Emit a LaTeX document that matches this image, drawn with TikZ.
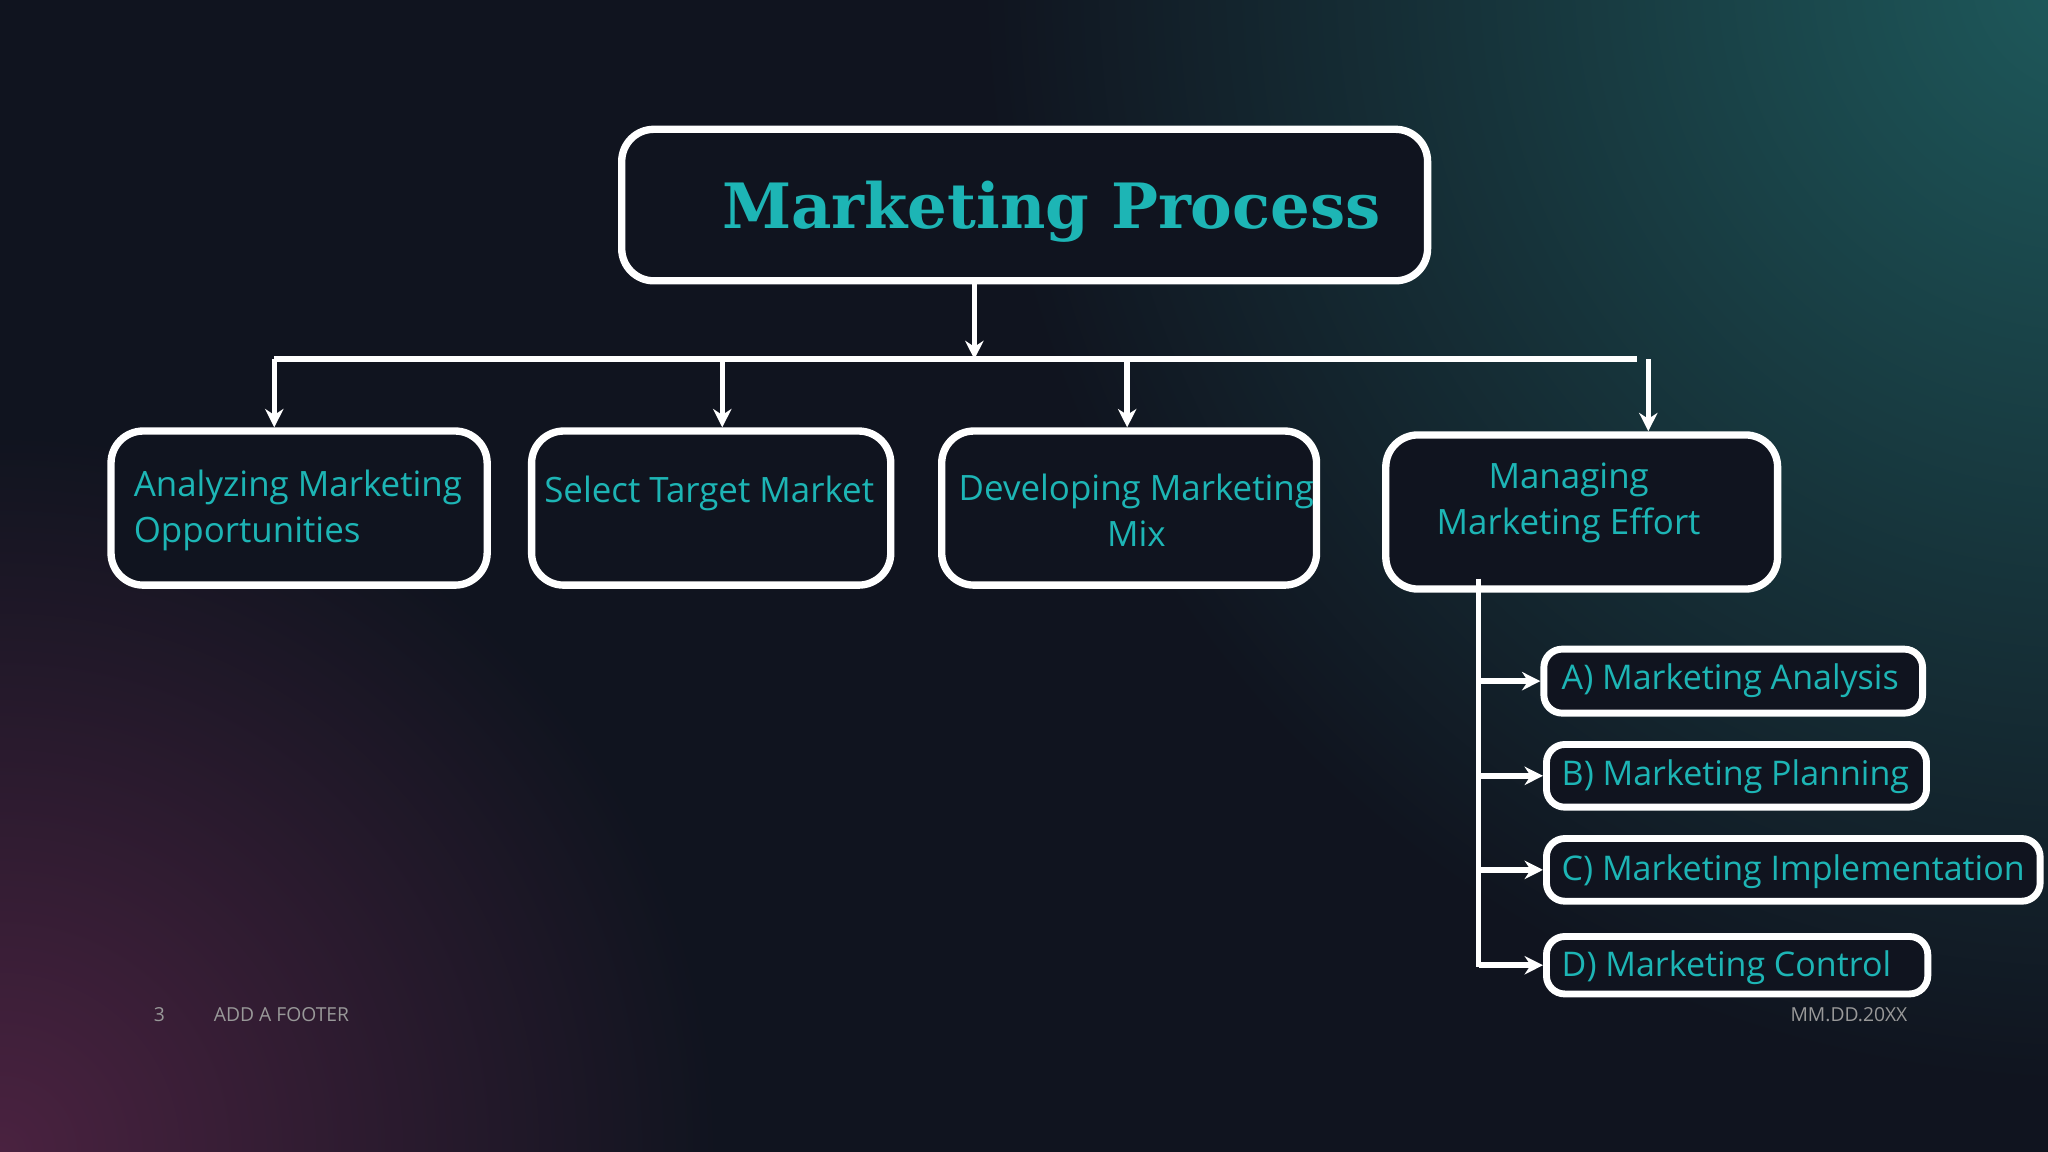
\documentclass[tikz,border=0pt]{standalone}
\usepackage{fontspec}
\setmainfont{Open Sans}
\newfontfamily\titlefont{DejaVu Serif}
\usetikzlibrary{arrows.meta}
\definecolor{bg}{HTML}{10141F}
\definecolor{tealtxt}{HTML}{1DB5B5}
\definecolor{glowt}{HTML}{1E5A5C}
\definecolor{glowp}{HTML}{4A2240}
\tikzset{
  box/.style={draw=white,line width=1.6pt,rounded corners=7pt,fill=bg,inner sep=0pt},
  sub/.style={draw=white,line width=1.5pt,rounded corners=4pt,fill=bg,inner sep=0pt},
  lbl/.style={text=tealtxt,font=\fontsize{7.6}{10}\selectfont,align=center},
  sublbl/.style={text=tealtxt,font=\fontsize{7.4}{10}\selectfont,anchor=west,inner sep=0pt},
  conn/.style={draw=white,line width=1.2pt},
  arr/.style={conn,-{Stealth[length=4pt,width=4pt]}},
  foot/.style={text=gray!80,font=\fontsize{4.2}{5}\selectfont,inner sep=0pt}
}
\begin{document}
\begin{tikzpicture}[x=0.01cm,y=-0.01cm]
\useasboundingbox (0,0) rectangle (1568,882);
\fill[bg] (0,0) rectangle (1568,882);
\begin{scope}
\clip (0,0) rectangle (1568,882);
\shade[inner color=glowt,outer color=bg] (1600,-20) circle (850);
\shade[inner color=glowp,outer color=bg] (0,882) circle (550);
\end{scope}
% title
\node[box,minimum width=617*0.01cm,minimum height=116*0.01cm] (t) at (784.5,157) {};
\node[text=tealtxt,font=\titlefont\bfseries\fontsize{13.6}{16}\selectfont] (tt) at (805,162) {Marketing Process};
% level boxes
\node[box,minimum width=288*0.01cm,minimum height=118*0.01cm] (b1) at (229,389) {};
\node[box,minimum width=275*0.01cm,minimum height=118*0.01cm] (b2) at (544.5,389) {};
\node[box,minimum width=287*0.01cm,minimum height=118*0.01cm] (b3) at (864.5,389) {};
\node[box,minimum width=300*0.01cm,minimum height=118*0.01cm] (b4) at (1211,392) {};
\node[lbl,align=left,anchor=west] at (90,391) {Analyzing Marketing\\Opportunities};
\node[lbl] at (543,378) {Select Target Market};
\node[lbl] at (870,391) {Developing Marketing\\Mix};
\node[lbl] at (1201,385) {Managing\\Marketing Effort};
% connectors
\coordinate (bl) at (210,275);
\coordinate (br) at (1253,275);
\coordinate (m) at (746,275);
\draw[conn] (bl) -- (br);
\draw[arr] (t.south -| m) -- (m);
\foreach \x/\b in {210/b1,553/b2,863/b3,1262/b4}{
  \draw[arr] (\x,275) -- (\b.north -| \x,0);
}
% sub boxes
\node[sub,minimum width=290*0.01cm,minimum height=49*0.01cm] (sa) at (1327,521.5) {};
\node[sub,minimum width=291*0.01cm,minimum height=48*0.01cm] (sb) at (1329.5,594) {};
\node[sub,minimum width=378*0.01cm,minimum height=48*0.01cm] (sc) at (1373,666) {};
\node[sub,minimum width=292*0.01cm,minimum height=44*0.01cm] (sd) at (1330,739) {};
\node[sublbl] at (1195,521) {A) Marketing Analysis};
\node[sublbl] at (1195,595) {B) Marketing Planning};
\node[sublbl] at (1195,667) {C) Marketing Implementation};
\node[sublbl] at (1195,741) {D) Marketing Control};
\coordinate (vt) at (1132,443);
\coordinate (vb) at (1132,740);
\draw[conn] (vt) -- (vb);
\foreach \s in {sa,sb,sc,sd}{
  \draw[arr] (\s.west -| vt) -- (\s.west);
}
% footer
\node[foot] at (122,777) {3};
\node[foot,anchor=west] at (163,777) {ADD A FOOTER};
\node[foot,anchor=east] at (1461,777) {MM.DD.20XX};
\end{tikzpicture}
\end{document}
